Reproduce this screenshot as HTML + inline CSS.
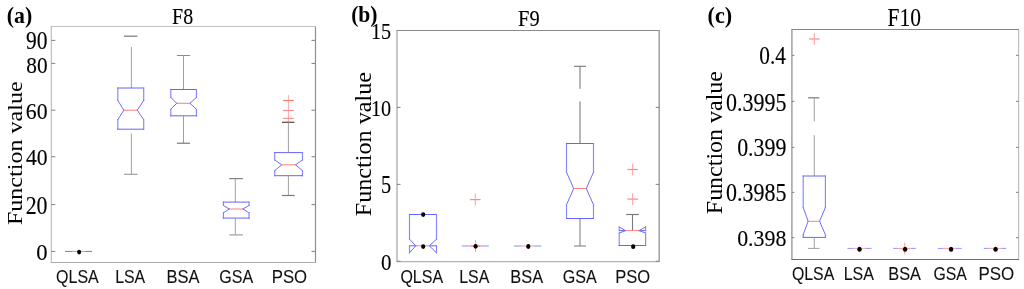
<!DOCTYPE html>
<html><head><meta charset="utf-8"><style>
html,body{margin:0;padding:0;background:#fff;width:1024px;height:289px;overflow:hidden}
svg{display:block}
</style></head><body>
<svg width="1024" height="289" viewBox="0 0 1024 289">
<rect width="1024" height="289" fill="#fff"/>
<line x1="51.3" y1="26.5" x2="51.3" y2="262.5" stroke="#bdbdbd" stroke-width="1.2"/>
<line x1="315.5" y1="26.5" x2="315.5" y2="262.5" stroke="#8f8f8f" stroke-width="1.2"/>
<line x1="50.8" y1="26.5" x2="316.0" y2="26.5" stroke="#c0c0c0" stroke-width="1"/>
<line x1="50.8" y1="262.5" x2="316.0" y2="262.5" stroke="#ababab" stroke-width="1"/>
<line x1="51.3" y1="40.4" x2="55.3" y2="40.4" stroke="#8a8a8a" stroke-width="1.1"/>
<line x1="311.5" y1="40.4" x2="315.5" y2="40.4" stroke="#8a8a8a" stroke-width="1.1"/>
<line x1="51.3" y1="63.4" x2="55.3" y2="63.4" stroke="#8a8a8a" stroke-width="1.1"/>
<line x1="311.5" y1="63.4" x2="315.5" y2="63.4" stroke="#8a8a8a" stroke-width="1.1"/>
<line x1="51.3" y1="110.2" x2="55.3" y2="110.2" stroke="#8a8a8a" stroke-width="1.1"/>
<line x1="311.5" y1="110.2" x2="315.5" y2="110.2" stroke="#8a8a8a" stroke-width="1.1"/>
<line x1="51.3" y1="156.7" x2="55.3" y2="156.7" stroke="#8a8a8a" stroke-width="1.1"/>
<line x1="311.5" y1="156.7" x2="315.5" y2="156.7" stroke="#8a8a8a" stroke-width="1.1"/>
<line x1="51.3" y1="204.6" x2="55.3" y2="204.6" stroke="#8a8a8a" stroke-width="1.1"/>
<line x1="311.5" y1="204.6" x2="315.5" y2="204.6" stroke="#8a8a8a" stroke-width="1.1"/>
<line x1="51.3" y1="251.4" x2="55.3" y2="251.4" stroke="#8a8a8a" stroke-width="1.1"/>
<line x1="311.5" y1="251.4" x2="315.5" y2="251.4" stroke="#8a8a8a" stroke-width="1.1"/>
<line x1="65" y1="251.4" x2="72.1" y2="251.4" stroke="#7070ff" stroke-width="1.0"/>
<line x1="84.8" y1="251.4" x2="92" y2="251.4" stroke="#7070ff" stroke-width="1.0"/>
<line x1="72.1" y1="251.4" x2="84.8" y2="251.4" stroke="#ff7a7a" stroke-width="1.0"/>
<ellipse cx="79.1" cy="252.1" rx="2.0" ry="2.4" fill="#000"/>
<line x1="123.9" y1="36.2" x2="137.3" y2="36.2" stroke="#8a8a8a" stroke-width="1.4"/>
<line x1="131.4" y1="47" x2="131.4" y2="88" stroke="#a0a0a0" stroke-width="1"/>
<line x1="117.8" y1="129.2" x2="117.8" y2="119.7" stroke="#8585ff" stroke-width="1.15" stroke-linecap="square"/>
<line x1="117.8" y1="119.7" x2="123.8" y2="110.2" stroke="#6e6eff" stroke-width="1.0" stroke-linecap="square"/>
<line x1="123.8" y1="110.2" x2="117.8" y2="100.4" stroke="#6e6eff" stroke-width="1.0" stroke-linecap="square"/>
<line x1="117.8" y1="100.4" x2="117.8" y2="88.0" stroke="#8585ff" stroke-width="1.15" stroke-linecap="square"/>
<line x1="117.8" y1="88.0" x2="143.7" y2="88.0" stroke="#6464ff" stroke-width="1.0" stroke-linecap="square"/>
<line x1="143.7" y1="88.0" x2="143.7" y2="100.4" stroke="#8585ff" stroke-width="1.15" stroke-linecap="square"/>
<line x1="143.7" y1="100.4" x2="137.3" y2="110.2" stroke="#6e6eff" stroke-width="1.0" stroke-linecap="square"/>
<line x1="137.3" y1="110.2" x2="143.7" y2="119.7" stroke="#6e6eff" stroke-width="1.0" stroke-linecap="square"/>
<line x1="143.7" y1="119.7" x2="143.7" y2="129.2" stroke="#8585ff" stroke-width="1.15" stroke-linecap="square"/>
<line x1="143.7" y1="129.2" x2="117.8" y2="129.2" stroke="#6464ff" stroke-width="1.0" stroke-linecap="square"/>
<line x1="123.8" y1="110.2" x2="137.3" y2="110.2" stroke="#ff8080" stroke-width="1"/>
<line x1="131.4" y1="133.6" x2="131.4" y2="174.3" stroke="#a0a0a0" stroke-width="1"/>
<line x1="124" y1="174.3" x2="137.5" y2="174.3" stroke="#a0a0a0" stroke-width="1.2"/>
<line x1="176.9" y1="55.5" x2="190.1" y2="55.5" stroke="#8a8a8a" stroke-width="1"/>
<line x1="183.5" y1="55.5" x2="183.5" y2="89.5" stroke="#a0a0a0" stroke-width="1"/>
<line x1="170.8" y1="115.8" x2="170.8" y2="109.2" stroke="#8585ff" stroke-width="1.15" stroke-linecap="square"/>
<line x1="170.8" y1="109.2" x2="176.7" y2="103.3" stroke="#6e6eff" stroke-width="1.0" stroke-linecap="square"/>
<line x1="176.7" y1="103.3" x2="170.8" y2="97.4" stroke="#6e6eff" stroke-width="1.0" stroke-linecap="square"/>
<line x1="170.8" y1="97.4" x2="170.8" y2="89.5" stroke="#8585ff" stroke-width="1.15" stroke-linecap="square"/>
<line x1="170.8" y1="89.5" x2="196.4" y2="89.5" stroke="#6464ff" stroke-width="1.0" stroke-linecap="square"/>
<line x1="196.4" y1="89.5" x2="196.4" y2="97.4" stroke="#8585ff" stroke-width="1.15" stroke-linecap="square"/>
<line x1="196.4" y1="97.4" x2="190.0" y2="103.3" stroke="#6e6eff" stroke-width="1.0" stroke-linecap="square"/>
<line x1="190.0" y1="103.3" x2="196.4" y2="109.2" stroke="#6e6eff" stroke-width="1.0" stroke-linecap="square"/>
<line x1="196.4" y1="109.2" x2="196.4" y2="115.8" stroke="#8585ff" stroke-width="1.15" stroke-linecap="square"/>
<line x1="196.4" y1="115.8" x2="170.8" y2="115.8" stroke="#6464ff" stroke-width="1.0" stroke-linecap="square"/>
<line x1="176.7" y1="103.3" x2="190.0" y2="103.3" stroke="#ff8080" stroke-width="1"/>
<line x1="183.5" y1="115.8" x2="183.5" y2="143.2" stroke="#a0a0a0" stroke-width="1"/>
<line x1="176.9" y1="143.2" x2="190.1" y2="143.2" stroke="#7a7a7a" stroke-width="1.2"/>
<line x1="229.2" y1="178.6" x2="242.9" y2="178.6" stroke="#808080" stroke-width="1.2"/>
<line x1="235.3" y1="178.6" x2="235.3" y2="202.1" stroke="#a0a0a0" stroke-width="1"/>
<line x1="223.4" y1="218.1" x2="223.4" y2="212.8" stroke="#8585ff" stroke-width="1.15" stroke-linecap="square"/>
<line x1="223.4" y1="212.8" x2="229.3" y2="209.0" stroke="#6e6eff" stroke-width="1.0" stroke-linecap="square"/>
<line x1="229.3" y1="209.0" x2="223.4" y2="205.4" stroke="#6e6eff" stroke-width="1.0" stroke-linecap="square"/>
<line x1="223.4" y1="205.4" x2="223.4" y2="202.1" stroke="#8585ff" stroke-width="1.15" stroke-linecap="square"/>
<line x1="223.4" y1="202.1" x2="249.0" y2="202.1" stroke="#6464ff" stroke-width="1.0" stroke-linecap="square"/>
<line x1="249.0" y1="202.1" x2="249.0" y2="205.4" stroke="#8585ff" stroke-width="1.15" stroke-linecap="square"/>
<line x1="249.0" y1="205.4" x2="243.0" y2="209.0" stroke="#6e6eff" stroke-width="1.0" stroke-linecap="square"/>
<line x1="243.0" y1="209.0" x2="249.0" y2="212.8" stroke="#6e6eff" stroke-width="1.0" stroke-linecap="square"/>
<line x1="249.0" y1="212.8" x2="249.0" y2="218.1" stroke="#8585ff" stroke-width="1.15" stroke-linecap="square"/>
<line x1="249.0" y1="218.1" x2="223.4" y2="218.1" stroke="#6464ff" stroke-width="1.0" stroke-linecap="square"/>
<line x1="229.3" y1="209.0" x2="243.0" y2="209.0" stroke="#ff8080" stroke-width="1"/>
<line x1="235.3" y1="218.1" x2="235.3" y2="234.9" stroke="#a0a0a0" stroke-width="1"/>
<line x1="229.4" y1="234.9" x2="242.9" y2="234.9" stroke="#a0a0a0" stroke-width="1.2"/>
<line x1="288.4" y1="95.1" x2="288.4" y2="123" stroke="#ffa8a8" stroke-width="1.0"/>
<line x1="283" y1="100.45" x2="293.9" y2="100.45" stroke="#ff7070" stroke-width="1.0"/>
<line x1="283" y1="110.4" x2="293.9" y2="110.4" stroke="#ff8080" stroke-width="1.0"/>
<line x1="283" y1="118.35" x2="293.9" y2="118.35" stroke="#ff8080" stroke-width="1.0"/>
<line x1="282" y1="122.3" x2="294.4" y2="122.3" stroke="#555" stroke-width="1.3"/>
<line x1="288.4" y1="122.3" x2="288.4" y2="152.6" stroke="#a0a0a0" stroke-width="1"/>
<line x1="274.7" y1="175.7" x2="274.7" y2="170.7" stroke="#8585ff" stroke-width="1.15" stroke-linecap="square"/>
<line x1="274.7" y1="170.7" x2="281.7" y2="164.8" stroke="#6e6eff" stroke-width="1.0" stroke-linecap="square"/>
<line x1="281.7" y1="164.8" x2="274.7" y2="159.9" stroke="#6e6eff" stroke-width="1.0" stroke-linecap="square"/>
<line x1="274.7" y1="159.9" x2="274.7" y2="152.6" stroke="#8585ff" stroke-width="1.15" stroke-linecap="square"/>
<line x1="274.7" y1="152.6" x2="302.5" y2="152.6" stroke="#6464ff" stroke-width="1.0" stroke-linecap="square"/>
<line x1="302.5" y1="152.6" x2="302.5" y2="159.9" stroke="#8585ff" stroke-width="1.15" stroke-linecap="square"/>
<line x1="302.5" y1="159.9" x2="295.6" y2="164.8" stroke="#6e6eff" stroke-width="1.0" stroke-linecap="square"/>
<line x1="295.6" y1="164.8" x2="302.5" y2="170.7" stroke="#6e6eff" stroke-width="1.0" stroke-linecap="square"/>
<line x1="302.5" y1="170.7" x2="302.5" y2="175.7" stroke="#8585ff" stroke-width="1.15" stroke-linecap="square"/>
<line x1="302.5" y1="175.7" x2="274.7" y2="175.7" stroke="#6464ff" stroke-width="1.0" stroke-linecap="square"/>
<line x1="281.7" y1="164.8" x2="295.6" y2="164.8" stroke="#ff8080" stroke-width="1"/>
<line x1="288.4" y1="175.7" x2="288.4" y2="195.5" stroke="#a0a0a0" stroke-width="1"/>
<line x1="281.9" y1="195.5" x2="294.7" y2="195.5" stroke="#7a7a7a" stroke-width="1.2"/>
<line x1="397.0" y1="30.5" x2="397.0" y2="261.7" stroke="#b0b0b0" stroke-width="1.4"/>
<line x1="659.2" y1="30.5" x2="659.2" y2="261.7" stroke="#9a9a9a" stroke-width="1.4"/>
<line x1="396.5" y1="30.5" x2="659.7" y2="30.5" stroke="#8a8a8a" stroke-width="1"/>
<line x1="396.5" y1="261.7" x2="659.7" y2="261.7" stroke="#a0a0a0" stroke-width="1"/>
<line x1="397.0" y1="107.4" x2="400.5" y2="107.4" stroke="#8a8a8a" stroke-width="1.1"/>
<line x1="655.7" y1="107.4" x2="659.2" y2="107.4" stroke="#8a8a8a" stroke-width="1.1"/>
<line x1="397.0" y1="184.4" x2="400.5" y2="184.4" stroke="#8a8a8a" stroke-width="1.1"/>
<line x1="655.7" y1="184.4" x2="659.2" y2="184.4" stroke="#8a8a8a" stroke-width="1.1"/>
<line x1="397.0" y1="261.2" x2="400.5" y2="261.2" stroke="#8a8a8a" stroke-width="1.1"/>
<line x1="655.7" y1="261.2" x2="659.2" y2="261.2" stroke="#8a8a8a" stroke-width="1.1"/>
<line x1="409.5" y1="245.8" x2="409.5" y2="252.8" stroke="#8585ff" stroke-width="1.15" stroke-linecap="square"/>
<line x1="409.5" y1="252.8" x2="415.8" y2="245.8" stroke="#6e6eff" stroke-width="1.0" stroke-linecap="square"/>
<line x1="415.8" y1="245.8" x2="409.5" y2="239.2" stroke="#6e6eff" stroke-width="1.0" stroke-linecap="square"/>
<line x1="409.5" y1="239.2" x2="409.5" y2="214.5" stroke="#8585ff" stroke-width="1.15" stroke-linecap="square"/>
<line x1="409.5" y1="214.5" x2="436.5" y2="214.5" stroke="#6464ff" stroke-width="1.0" stroke-linecap="square"/>
<line x1="436.5" y1="214.5" x2="436.5" y2="239.2" stroke="#8585ff" stroke-width="1.15" stroke-linecap="square"/>
<line x1="436.5" y1="239.2" x2="429.3" y2="245.8" stroke="#6e6eff" stroke-width="1.0" stroke-linecap="square"/>
<line x1="429.3" y1="245.8" x2="436.5" y2="252.8" stroke="#6e6eff" stroke-width="1.0" stroke-linecap="square"/>
<line x1="436.5" y1="252.8" x2="436.5" y2="245.8" stroke="#8585ff" stroke-width="1.15" stroke-linecap="square"/>
<line x1="409.5" y1="245.8" x2="415.8" y2="245.8" stroke="#6464ff" stroke-width="1.0"/>
<line x1="429.3" y1="245.8" x2="436.5" y2="245.8" stroke="#6464ff" stroke-width="1.0"/>
<line x1="415.8" y1="245.8" x2="429.3" y2="245.8" stroke="#ff8080" stroke-width="1"/>
<ellipse cx="423.2" cy="214.6" rx="2.1" ry="2.4" fill="#000"/>
<ellipse cx="423.2" cy="246.6" rx="2.1" ry="2.4" fill="#000"/>
<line x1="461.75" y1="246.0" x2="469" y2="246.0" stroke="#8c8cff" stroke-width="1.0"/>
<line x1="481.1" y1="246.0" x2="488.8" y2="246.0" stroke="#8c8cff" stroke-width="1.0"/>
<line x1="469" y1="246.0" x2="481.1" y2="246.0" stroke="#ff9a9a" stroke-width="1.0"/>
<line x1="470.0" y1="199.6" x2="480.6" y2="199.6" stroke="#ff8686" stroke-width="1.2"/>
<line x1="475.3" y1="193.7" x2="475.3" y2="205.5" stroke="#ff9c9c" stroke-width="1.0"/>
<line x1="470.2" y1="246" x2="480.8" y2="246" stroke="#ff8686" stroke-width="1.2"/>
<line x1="475.5" y1="240.1" x2="475.5" y2="251.9" stroke="#ff9c9c" stroke-width="1.0"/>
<ellipse cx="475.6" cy="246.3" rx="2.1" ry="2.4" fill="#000"/>
<line x1="514" y1="246.0" x2="521.7" y2="246.0" stroke="#8c8cff" stroke-width="1.0"/>
<line x1="533.8" y1="246.0" x2="541.3" y2="246.0" stroke="#8c8cff" stroke-width="1.0"/>
<line x1="521.7" y1="246.0" x2="533.8" y2="246.0" stroke="#ff9a9a" stroke-width="1.0"/>
<ellipse cx="528.3" cy="246.5" rx="2.1" ry="2.4" fill="#000"/>
<line x1="574" y1="66.3" x2="586" y2="66.3" stroke="#808080" stroke-width="1.2"/>
<line x1="580" y1="66.3" x2="580" y2="88.7" stroke="#858585" stroke-width="1.2"/>
<line x1="580" y1="101.6" x2="580" y2="143.5" stroke="#858585" stroke-width="1.2"/>
<line x1="566.5" y1="218.5" x2="566.5" y2="204.8" stroke="#8585ff" stroke-width="1.15" stroke-linecap="square"/>
<line x1="566.5" y1="204.8" x2="573.7" y2="188.5" stroke="#6e6eff" stroke-width="1.0" stroke-linecap="square"/>
<line x1="573.7" y1="188.5" x2="566.5" y2="172.2" stroke="#6e6eff" stroke-width="1.0" stroke-linecap="square"/>
<line x1="566.5" y1="172.2" x2="566.5" y2="143.5" stroke="#8585ff" stroke-width="1.15" stroke-linecap="square"/>
<line x1="566.5" y1="143.5" x2="593.5" y2="143.5" stroke="#6464ff" stroke-width="1.0" stroke-linecap="square"/>
<line x1="593.5" y1="143.5" x2="593.5" y2="172.2" stroke="#8585ff" stroke-width="1.15" stroke-linecap="square"/>
<line x1="593.5" y1="172.2" x2="586.3" y2="188.5" stroke="#6e6eff" stroke-width="1.0" stroke-linecap="square"/>
<line x1="586.3" y1="188.5" x2="593.5" y2="204.8" stroke="#6e6eff" stroke-width="1.0" stroke-linecap="square"/>
<line x1="593.5" y1="204.8" x2="593.5" y2="218.5" stroke="#8585ff" stroke-width="1.15" stroke-linecap="square"/>
<line x1="593.5" y1="218.5" x2="566.5" y2="218.5" stroke="#6464ff" stroke-width="1.0" stroke-linecap="square"/>
<line x1="573.7" y1="188.5" x2="586.3" y2="188.5" stroke="#ff8080" stroke-width="1"/>
<line x1="580" y1="218.5" x2="580" y2="246" stroke="#7a7a7a" stroke-width="1"/>
<line x1="574" y1="246" x2="586" y2="246" stroke="#7a7a7a" stroke-width="1"/>
<line x1="627.4000000000001" y1="169.5" x2="638.0" y2="169.5" stroke="#ff8686" stroke-width="1.2"/>
<line x1="632.7" y1="163.6" x2="632.7" y2="175.4" stroke="#ff9c9c" stroke-width="1.0"/>
<line x1="627.4000000000001" y1="199.1" x2="638.0" y2="199.1" stroke="#ff8686" stroke-width="1.2"/>
<line x1="632.7" y1="193.2" x2="632.7" y2="205.0" stroke="#ff9c9c" stroke-width="1.0"/>
<line x1="626.2" y1="214.5" x2="638.8" y2="214.5" stroke="#7a7a7a" stroke-width="1.2"/>
<line x1="632.5" y1="214.5" x2="632.5" y2="230.6" stroke="#7a7a7a" stroke-width="1.1"/>
<line x1="619.2" y1="245.5" x2="619.2" y2="233.0" stroke="#8585ff" stroke-width="1.15" stroke-linecap="square"/>
<line x1="619.2" y1="233.0" x2="625.6" y2="230.6" stroke="#6e6eff" stroke-width="1.0" stroke-linecap="square"/>
<line x1="625.6" y1="230.6" x2="619.2" y2="227.0" stroke="#6e6eff" stroke-width="1.0" stroke-linecap="square"/>
<line x1="619.2" y1="227.0" x2="619.2" y2="230.6" stroke="#8585ff" stroke-width="1.15" stroke-linecap="square"/>
<line x1="619.2" y1="230.6" x2="625.6" y2="230.6" stroke="#6464ff" stroke-width="1.0"/>
<line x1="638.9" y1="230.6" x2="645.6" y2="230.6" stroke="#6464ff" stroke-width="1.0"/>
<line x1="645.6" y1="230.6" x2="645.6" y2="227.0" stroke="#8585ff" stroke-width="1.15" stroke-linecap="square"/>
<line x1="645.6" y1="227.0" x2="638.9" y2="230.6" stroke="#6e6eff" stroke-width="1.0" stroke-linecap="square"/>
<line x1="638.9" y1="230.6" x2="645.6" y2="233.0" stroke="#6e6eff" stroke-width="1.0" stroke-linecap="square"/>
<line x1="645.6" y1="233.0" x2="645.6" y2="245.5" stroke="#8585ff" stroke-width="1.15" stroke-linecap="square"/>
<line x1="645.6" y1="245.5" x2="619.2" y2="245.5" stroke="#6464ff" stroke-width="1.0" stroke-linecap="square"/>
<line x1="625.6" y1="230.6" x2="638.9" y2="230.6" stroke="#ff8080" stroke-width="1"/>
<ellipse cx="633.2" cy="246.7" rx="2.1" ry="2.4" fill="#000"/>
<line x1="791.9" y1="29.5" x2="791.9" y2="259.5" stroke="#9a9a9a" stroke-width="1.4"/>
<line x1="1018.6" y1="29.5" x2="1018.6" y2="259.5" stroke="#c0c0c0" stroke-width="1.3"/>
<line x1="791.4" y1="29.5" x2="1019.1" y2="29.5" stroke="#858585" stroke-width="1"/>
<line x1="791.4" y1="259.5" x2="1019.1" y2="259.5" stroke="#6e6e6e" stroke-width="1"/>
<line x1="791.9" y1="55.4" x2="794.4" y2="55.4" stroke="#8a8a8a" stroke-width="1.1"/>
<line x1="1016.1" y1="55.4" x2="1018.6" y2="55.4" stroke="#8a8a8a" stroke-width="1.1"/>
<line x1="791.9" y1="101.4" x2="794.4" y2="101.4" stroke="#8a8a8a" stroke-width="1.1"/>
<line x1="1016.1" y1="101.4" x2="1018.6" y2="101.4" stroke="#8a8a8a" stroke-width="1.1"/>
<line x1="791.9" y1="147.4" x2="794.4" y2="147.4" stroke="#8a8a8a" stroke-width="1.1"/>
<line x1="1016.1" y1="147.4" x2="1018.6" y2="147.4" stroke="#8a8a8a" stroke-width="1.1"/>
<line x1="791.9" y1="192.4" x2="794.4" y2="192.4" stroke="#8a8a8a" stroke-width="1.1"/>
<line x1="1016.1" y1="192.4" x2="1018.6" y2="192.4" stroke="#8a8a8a" stroke-width="1.1"/>
<line x1="791.9" y1="237.6" x2="794.4" y2="237.6" stroke="#8a8a8a" stroke-width="1.1"/>
<line x1="1016.1" y1="237.6" x2="1018.6" y2="237.6" stroke="#8a8a8a" stroke-width="1.1"/>
<line x1="809.0" y1="39.0" x2="819.5999999999999" y2="39.0" stroke="#ff8686" stroke-width="1.2"/>
<line x1="814.3" y1="33.1" x2="814.3" y2="44.9" stroke="#ff9c9c" stroke-width="1.0"/>
<line x1="808.2" y1="97.8" x2="819.3" y2="97.8" stroke="#8a8a8a" stroke-width="1.4"/>
<line x1="814.25" y1="97.8" x2="814.25" y2="121.5" stroke="#a0a0a0" stroke-width="1"/>
<line x1="814.25" y1="135.2" x2="814.25" y2="176" stroke="#a0a0a0" stroke-width="1"/>
<line x1="803.2" y1="237.4" x2="803.2" y2="234.8" stroke="#8585ff" stroke-width="1.15" stroke-linecap="square"/>
<line x1="803.2" y1="234.8" x2="808.1" y2="221.3" stroke="#6e6eff" stroke-width="1.0" stroke-linecap="square"/>
<line x1="808.1" y1="221.3" x2="803.2" y2="207.4" stroke="#6e6eff" stroke-width="1.0" stroke-linecap="square"/>
<line x1="803.2" y1="207.4" x2="803.2" y2="176" stroke="#8585ff" stroke-width="1.15" stroke-linecap="square"/>
<line x1="803.2" y1="176" x2="825.4" y2="176" stroke="#6464ff" stroke-width="1.0" stroke-linecap="square"/>
<line x1="825.4" y1="176" x2="825.4" y2="207.4" stroke="#8585ff" stroke-width="1.15" stroke-linecap="square"/>
<line x1="825.4" y1="207.4" x2="819.6" y2="221.3" stroke="#6e6eff" stroke-width="1.0" stroke-linecap="square"/>
<line x1="819.6" y1="221.3" x2="825.4" y2="234.8" stroke="#6e6eff" stroke-width="1.0" stroke-linecap="square"/>
<line x1="825.4" y1="234.8" x2="825.4" y2="237.4" stroke="#8585ff" stroke-width="1.15" stroke-linecap="square"/>
<line x1="825.4" y1="237.4" x2="803.2" y2="237.4" stroke="#6464ff" stroke-width="1.0" stroke-linecap="square"/>
<line x1="808.1" y1="221.3" x2="819.6" y2="221.3" stroke="#ff8080" stroke-width="1"/>
<line x1="814.25" y1="237.5" x2="814.25" y2="248.4" stroke="#a0a0a0" stroke-width="1"/>
<line x1="808" y1="248.4" x2="819.5" y2="248.4" stroke="#a0a0a0" stroke-width="1"/>
<line x1="899.4000000000001" y1="248.6" x2="910.0" y2="248.6" stroke="#ff8686" stroke-width="1.2"/>
<line x1="904.7" y1="242.7" x2="904.7" y2="254.5" stroke="#ff9c9c" stroke-width="1.0"/>
<line x1="847.4" y1="248.4" x2="853.25" y2="248.4" stroke="#9494ff" stroke-width="1.0"/>
<line x1="865.6500000000001" y1="248.4" x2="871.5" y2="248.4" stroke="#9494ff" stroke-width="1.0"/>
<line x1="853.25" y1="248.4" x2="865.6500000000001" y2="248.4" stroke="#ffa0a0" stroke-width="1.0"/>
<ellipse cx="859.5" cy="249.2" rx="2.2" ry="2.5" fill="#000"/>
<line x1="893.2" y1="248.4" x2="898.3" y2="248.4" stroke="#9494ff" stroke-width="1.0"/>
<line x1="910.7" y1="248.4" x2="915.8" y2="248.4" stroke="#9494ff" stroke-width="1.0"/>
<line x1="898.3" y1="248.4" x2="910.7" y2="248.4" stroke="#ffa0a0" stroke-width="1.0"/>
<ellipse cx="905.1" cy="249.2" rx="2.2" ry="2.5" fill="#000"/>
<line x1="937.9" y1="248.4" x2="943.5999999999999" y2="248.4" stroke="#9494ff" stroke-width="1.0"/>
<line x1="956.0" y1="248.4" x2="961.7" y2="248.4" stroke="#9494ff" stroke-width="1.0"/>
<line x1="943.5999999999999" y1="248.4" x2="956.0" y2="248.4" stroke="#ffa0a0" stroke-width="1.0"/>
<ellipse cx="951.1" cy="249.2" rx="2.2" ry="2.5" fill="#000"/>
<line x1="983.8" y1="248.4" x2="988.8" y2="248.4" stroke="#9494ff" stroke-width="1.0"/>
<line x1="1001.2" y1="248.4" x2="1006.2" y2="248.4" stroke="#9494ff" stroke-width="1.0"/>
<line x1="988.8" y1="248.4" x2="1001.2" y2="248.4" stroke="#ffa0a0" stroke-width="1.0"/>
<ellipse cx="995.6" cy="249.2" rx="2.2" ry="2.5" fill="#000"/>
<text x="6.74" y="22.96" font-family='"Liberation Serif", serif' font-weight="bold" font-size="22.27" textLength="25.42" lengthAdjust="spacingAndGlyphs" fill="#000">(a)</text>
<text x="351.15" y="21.80" font-family='"Liberation Serif", serif' font-weight="bold" font-size="23.48" textLength="26.41" lengthAdjust="spacingAndGlyphs" fill="#000">(b)</text>
<text x="707.52" y="23.19" font-family='"Liberation Serif", serif' font-weight="bold" font-size="22.60" textLength="24.60" lengthAdjust="spacingAndGlyphs" fill="#000">(c)</text>
<text x="172.09" y="24.00" font-family='"Liberation Serif", serif' font-weight="normal" font-size="23.81" textLength="21.11" lengthAdjust="spacingAndGlyphs" fill="#000" stroke="#000" stroke-width="0.13">F8</text>
<text x="518.07" y="25.90" font-family='"Liberation Serif", serif' font-weight="normal" font-size="23.91" textLength="21.61" lengthAdjust="spacingAndGlyphs" fill="#000" stroke="#000" stroke-width="0.13">F9</text>
<text x="887.54" y="26.09" font-family='"Liberation Serif", serif' font-weight="normal" font-size="24.55" textLength="33.36" lengthAdjust="spacingAndGlyphs" fill="#000" stroke="#000" stroke-width="0.13">F10</text>
<text x="26.08" y="49.09" font-family='"Liberation Serif", serif' font-weight="normal" font-size="24.25" textLength="21.47" lengthAdjust="spacingAndGlyphs" fill="#000" stroke="#000" stroke-width="0.13">90</text>
<text x="26.26" y="72.70" font-family='"Liberation Serif", serif' font-weight="normal" font-size="23.96" textLength="21.29" lengthAdjust="spacingAndGlyphs" fill="#000" stroke="#000" stroke-width="0.13">80</text>
<text x="25.83" y="118.70" font-family='"Liberation Serif", serif' font-weight="normal" font-size="23.66" textLength="21.73" lengthAdjust="spacingAndGlyphs" fill="#000" stroke="#000" stroke-width="0.13">60</text>
<text x="25.93" y="164.70" font-family='"Liberation Serif", serif' font-weight="normal" font-size="23.51" textLength="21.62" lengthAdjust="spacingAndGlyphs" fill="#000" stroke="#000" stroke-width="0.13">40</text>
<text x="25.70" y="213.69" font-family='"Liberation Serif", serif' font-weight="normal" font-size="24.40" textLength="21.86" lengthAdjust="spacingAndGlyphs" fill="#000" stroke="#000" stroke-width="0.13">20</text>
<text x="36.31" y="260.00" font-family='"Liberation Serif", serif' font-weight="normal" font-size="23.51" textLength="11.29" lengthAdjust="spacingAndGlyphs" fill="#000" stroke="#000" stroke-width="0.13">0</text>
<text x="371.04" y="39.30" font-family='"Liberation Serif", serif' font-weight="normal" font-size="23.69" textLength="20.18" lengthAdjust="spacingAndGlyphs" fill="#000" stroke="#000" stroke-width="0.13">15</text>
<text x="371.04" y="115.95" font-family='"Liberation Serif", serif' font-weight="normal" font-size="23.81" textLength="20.16" lengthAdjust="spacingAndGlyphs" fill="#000" stroke="#000" stroke-width="0.13">10</text>
<text x="381.09" y="192.84" font-family='"Liberation Serif", serif' font-weight="normal" font-size="24.17" textLength="10.14" lengthAdjust="spacingAndGlyphs" fill="#000" stroke="#000" stroke-width="0.13">5</text>
<text x="381.02" y="269.75" font-family='"Liberation Serif", serif' font-weight="normal" font-size="23.81" textLength="10.46" lengthAdjust="spacingAndGlyphs" fill="#000" stroke="#000" stroke-width="0.13">0</text>
<text x="759.26" y="64.30" font-family='"Liberation Serif", serif' font-weight="normal" font-size="24.26" textLength="26.62" lengthAdjust="spacingAndGlyphs" fill="#000" stroke="#000" stroke-width="0.13">0.4</text>
<text x="725.98" y="110.64" font-family='"Liberation Serif", serif' font-weight="normal" font-size="24.33" textLength="60.41" lengthAdjust="spacingAndGlyphs" fill="#000" stroke="#000" stroke-width="0.13">0.3995</text>
<text x="737.13" y="156.00" font-family='"Liberation Serif", serif' font-weight="normal" font-size="24.26" textLength="49.30" lengthAdjust="spacingAndGlyphs" fill="#000" stroke="#000" stroke-width="0.13">0.399</text>
<text x="725.98" y="200.99" font-family='"Liberation Serif", serif' font-weight="normal" font-size="24.33" textLength="60.41" lengthAdjust="spacingAndGlyphs" fill="#000" stroke="#000" stroke-width="0.13">0.3985</text>
<text x="737.13" y="246.45" font-family='"Liberation Serif", serif' font-weight="normal" font-size="24.04" textLength="49.23" lengthAdjust="spacingAndGlyphs" fill="#000" stroke="#000" stroke-width="0.13">0.398</text>
<text transform="translate(21.90,225.10) rotate(-90)" font-family='"Liberation Serif", serif' font-size="21.47" textLength="143.74" lengthAdjust="spacingAndGlyphs" fill="#000">Function value</text>
<text transform="translate(371.30,216.30) rotate(-90)" font-family='"Liberation Serif", serif' font-size="22.05" textLength="144.25" lengthAdjust="spacingAndGlyphs" fill="#000">Function value</text>
<text transform="translate(722.00,214.20) rotate(-90)" font-family='"Liberation Serif", serif' font-size="22.33" textLength="143.14" lengthAdjust="spacingAndGlyphs" fill="#000">Function value</text>
<text x="56.10" y="282.75" font-family='"Liberation Sans", sans-serif' font-weight="normal" font-size="18.68" textLength="42.68" lengthAdjust="spacingAndGlyphs" fill="#111" stroke="#111" stroke-width="0.1">QLSA</text>
<text x="115.15" y="282.75" font-family='"Liberation Sans", sans-serif' font-weight="normal" font-size="18.68" textLength="30.04" lengthAdjust="spacingAndGlyphs" fill="#111" stroke="#111" stroke-width="0.1">LSA</text>
<text x="166.50" y="282.75" font-family='"Liberation Sans", sans-serif' font-weight="normal" font-size="18.68" textLength="33.04" lengthAdjust="spacingAndGlyphs" fill="#111" stroke="#111" stroke-width="0.1">BSA</text>
<text x="219.35" y="282.75" font-family='"Liberation Sans", sans-serif' font-weight="normal" font-size="18.68" textLength="33.93" lengthAdjust="spacingAndGlyphs" fill="#111" stroke="#111" stroke-width="0.1">GSA</text>
<text x="271.78" y="282.75" font-family='"Liberation Sans", sans-serif' font-weight="normal" font-size="18.68" textLength="35.37" lengthAdjust="spacingAndGlyphs" fill="#111" stroke="#111" stroke-width="0.1">PSO</text>
<text x="400.40" y="282.75" font-family='"Liberation Sans", sans-serif' font-weight="normal" font-size="18.61" textLength="42.68" lengthAdjust="spacingAndGlyphs" fill="#111" stroke="#111" stroke-width="0.1">QLSA</text>
<text x="459.25" y="282.75" font-family='"Liberation Sans", sans-serif' font-weight="normal" font-size="18.61" textLength="30.04" lengthAdjust="spacingAndGlyphs" fill="#111" stroke="#111" stroke-width="0.1">LSA</text>
<text x="510.31" y="282.75" font-family='"Liberation Sans", sans-serif' font-weight="normal" font-size="18.61" textLength="32.78" lengthAdjust="spacingAndGlyphs" fill="#111" stroke="#111" stroke-width="0.1">BSA</text>
<text x="562.85" y="282.75" font-family='"Liberation Sans", sans-serif' font-weight="normal" font-size="18.61" textLength="33.93" lengthAdjust="spacingAndGlyphs" fill="#111" stroke="#111" stroke-width="0.1">GSA</text>
<text x="615.29" y="282.75" font-family='"Liberation Sans", sans-serif' font-weight="normal" font-size="18.61" textLength="34.95" lengthAdjust="spacingAndGlyphs" fill="#111" stroke="#111" stroke-width="0.1">PSO</text>
<text x="791.90" y="279.70" font-family='"Liberation Sans", sans-serif' font-weight="normal" font-size="18.10" textLength="42.38" lengthAdjust="spacingAndGlyphs" fill="#111" stroke="#111" stroke-width="0.1">QLSA</text>
<text x="843.64" y="279.70" font-family='"Liberation Sans", sans-serif' font-weight="normal" font-size="18.10" textLength="30.25" lengthAdjust="spacingAndGlyphs" fill="#111" stroke="#111" stroke-width="0.1">LSA</text>
<text x="888.31" y="279.70" font-family='"Liberation Sans", sans-serif' font-weight="normal" font-size="18.10" textLength="32.67" lengthAdjust="spacingAndGlyphs" fill="#111" stroke="#111" stroke-width="0.1">BSA</text>
<text x="933.46" y="279.70" font-family='"Liberation Sans", sans-serif' font-weight="normal" font-size="18.10" textLength="33.42" lengthAdjust="spacingAndGlyphs" fill="#111" stroke="#111" stroke-width="0.1">GSA</text>
<text x="978.46" y="279.70" font-family='"Liberation Sans", sans-serif' font-weight="normal" font-size="18.10" textLength="35.80" lengthAdjust="spacingAndGlyphs" fill="#111" stroke="#111" stroke-width="0.1">PSO</text>
</svg>
</body></html>
